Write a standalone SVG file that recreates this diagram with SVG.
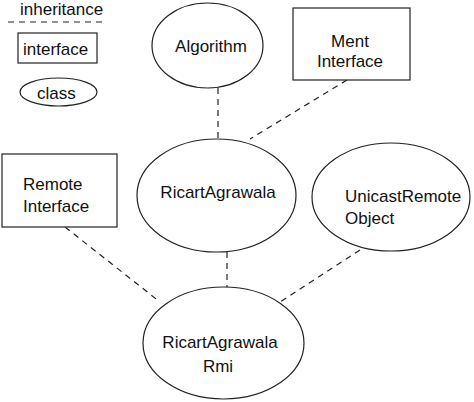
<svg xmlns="http://www.w3.org/2000/svg" width="474" height="402" viewBox="0 0 474 402">
<style>
.s{fill:#fff;stroke:#222;stroke-width:1.2}
.t{font-family:"Liberation Sans",Arial,sans-serif;font-size:17px;fill:#111}
.m{text-anchor:middle}
.d{stroke:#222;stroke-width:1.2;stroke-dasharray:6,5;fill:none}
</style>
<rect width="474" height="402" fill="#fff"/>
<g id="legend">
<text class="t" x="20" y="15">inheritance</text>
<line class="d" x1="8" y1="22" x2="105" y2="22"/>
<rect class="s" x="18" y="33" width="79" height="30"/>
<text class="t" x="23" y="55">interface</text>
<ellipse class="s" cx="58.5" cy="92" rx="38.5" ry="14"/>
<text class="t" x="37" y="99">class</text>
</g>
<g id="connectors">
<line class="d" x1="218" y1="88" x2="218" y2="139"/>
<line class="d" x1="347" y1="80" x2="250" y2="139"/>
<line class="d" x1="65" y1="227" x2="160" y2="302"/>
<line class="d" x1="227" y1="252" x2="227" y2="287"/>
<line class="d" x1="360" y1="250" x2="280" y2="302"/>
</g>
<g id="algorithm">
<ellipse class="s" cx="207.5" cy="45.5" rx="55.5" ry="42.5"/>
<text class="t m" x="211" y="52">Algorithm</text>
</g>
<g id="ment-interface">
<rect class="s" x="293" y="8" width="117" height="72"/>
<text class="t m" x="350" y="47">Ment</text>
<text class="t m" x="350" y="67">Interface</text>
</g>
<g id="remote-interface">
<rect class="s" x="2" y="154" width="115" height="73"/>
<text class="t" x="23" y="190">Remote</text>
<text class="t" x="23" y="212">Interface</text>
</g>
<g id="ricart-agrawala">
<ellipse class="s" cx="216.5" cy="195.5" rx="79.5" ry="56.5"/>
<text class="t m" x="218" y="198">RicartAgrawala</text>
</g>
<g id="unicast-remote-object">
<ellipse class="s" cx="391" cy="197" rx="79" ry="54"/>
<text class="t" x="345" y="202">UnicastRemote</text>
<text class="t" x="345" y="224">Object</text>
</g>
<g id="ricart-agrawala-rmi">
<ellipse class="s" cx="223.5" cy="343" rx="80.5" ry="56"/>
<text class="t m" x="220" y="348">RicartAgrawala</text>
<text class="t m" x="218" y="372">Rmi</text>
</g>
</svg>
